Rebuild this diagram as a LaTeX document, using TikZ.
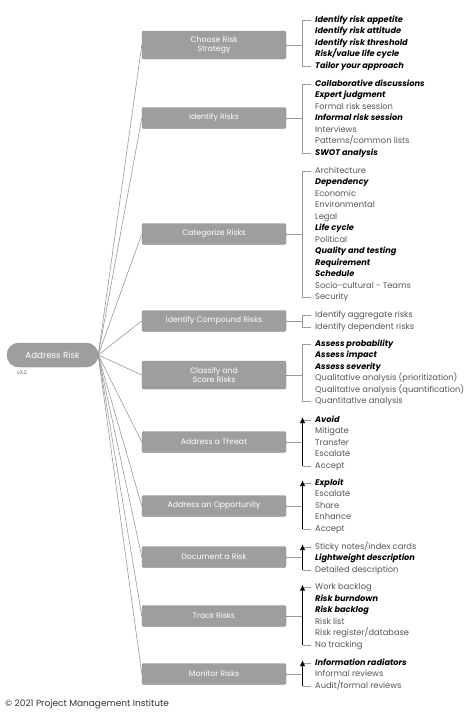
\documentclass[tikz,border=0pt]{standalone}
\usepackage{fontspec}
\setmainfont{Poppins}
\usetikzlibrary{arrows.meta}

\definecolor{boxgray}{HTML}{9E9E9E}
\definecolor{boxedge}{HTML}{878787}
\definecolor{linegray}{HTML}{999999}
\definecolor{txtgray}{HTML}{555555}

\begin{document}
\begin{tikzpicture}[
  x=1pt, y=-1pt,
  root/.style={draw=boxedge, fill=boxgray, rounded corners=12pt, minimum width=91pt, minimum height=24pt, text=white, font=\fontsize{8.7}{10}\selectfont},
  task/.style={draw=boxedge, fill=boxgray, rounded corners=2pt, minimum width=144pt, minimum height=21pt, inner sep=1pt, text=white, align=center, font=\fontsize{7.8}{9}\selectfont},
  key/.style={anchor=west, inner sep=0pt, text height=6pt, text depth=2pt, text=black, font=\fontsize{8.2}{9}\selectfont\bfseries\itshape},
  plain/.style={anchor=west, inner sep=0pt, text height=6pt, text depth=2pt, text=txtgray, font=\fontsize{8.3}{9}\selectfont},
  spoke/.style={draw=linegray, line width=0.6pt},
  brace/.style={draw=linegray, line width=0.6pt},
  order/.style={draw=black, line width=1.5pt, -{Latex[length=6pt,width=5.5pt]}}
]
\useasboundingbox (0,0) rectangle (474,712);

% root
\node[root] (root) at (52.5,355) {Address Risk};
\node[inner sep=0pt, text=txtgray, font=\fontsize{5}{6}\selectfont] (ver) at (22,373) {v3.2};

% practices
\node[task, minimum height=28pt] (cs) at (214,45) {Choose Risk\\Strategy};
\node[task] (id) at (214,118) {Identify Risks};
\node[task] (ca) at (214,234) {Categorize Risks};
\node[task] (cp) at (214,321) {Identify Compound Risks};
\node[task, minimum height=28pt] (cl) at (214,375) {Classify and\\Score Risks};
\node[task] (th) at (214,442) {Address a Threat};
\node[task] (op) at (214,506) {Address an Opportunity};
\node[task] (dc) at (214,557) {Document a Risk};
\node[task] (tr) at (214,616) {Track Risks};
\node[task] (mo) at (214,674) {Monitor Risks};

\foreach \b in {cs,id,ca,cp,cl,th,op,dc,tr,mo}
  \draw[spoke] (root.east) -- (\b.west);

% options: choose risk strategy
\node[key] (cs1) at (315,20) {Identify risk appetite};
\node[key] (cs2) at (315,31.5) {Identify risk attitude};
\node[key] (cs3) at (315,43) {Identify risk threshold};
\node[key] (cs4) at (315,54.5) {Risk/value life cycle};
\node[key] (cs5) at (315,66) {Tailor your approach};

% identify risks
\node[key] (id1) at (315,84) {Collaborative discussions};
\node[key] (id2) at (315,95.5) {Expert judgment};
\node[plain] (id3) at (315,107) {Formal risk session};
\node[key] (id4) at (315,118.5) {Informal risk session};
\node[plain] (id5) at (315,130) {Interviews};
\node[plain] (id6) at (315,141.5) {Patterns/common lists};
\node[key] (id7) at (315,153) {SWOT analysis};

% categorize risks
\node[plain] (ca1) at (315,171) {Architecture};
\node[key] (ca2) at (315,182.5) {Dependency};
\node[plain] (ca3) at (315,194) {Economic};
\node[plain] (ca4) at (315,205.5) {Environmental};
\node[plain] (ca5) at (315,217) {Legal};
\node[key] (ca6) at (315,228.5) {Life cycle};
\node[plain] (ca7) at (315,240) {Political};
\node[key] (ca8) at (315,251.5) {Quality and testing};
\node[key] (ca9) at (315,263) {Requirement};
\node[key] (ca10) at (315,274.5) {Schedule};
\node[plain] (ca11) at (315,286) {Socio-cultural - Teams};
\node[plain] (ca12) at (315,297.5) {Security};

% compound risks
\node[plain] (cp1) at (315,315.5) {Identify aggregate risks};
\node[plain] (cp2) at (315,327) {Identify dependent risks};

% classify and score
\node[key] (cl1) at (315,344) {Assess probability};
\node[key] (cl2) at (315,355.5) {Assess impact};
\node[key] (cl3) at (315,367) {Assess severity};
\node[plain] (cl4) at (315,378.5) {Qualitative analysis (prioritization)};
\node[plain] (cl5) at (315,390) {Qualitative analysis (quantification)};
\node[plain] (cl6) at (315,401.5) {Quantitative analysis};

% threat
\node[key] (th1) at (315,420) {Avoid};
\node[plain] (th2) at (315,431.5) {Mitigate};
\node[plain] (th3) at (315,443) {Transfer};
\node[plain] (th4) at (315,454.5) {Escalate};
\node[plain] (th5) at (315,466) {Accept};

% opportunity
\node[key] (op1) at (315,483) {Exploit};
\node[plain] (op2) at (315,494.5) {Escalate};
\node[plain] (op3) at (315,506) {Share};
\node[plain] (op4) at (315,517.5) {Enhance};
\node[plain] (op5) at (315,529) {Accept};

% document
\node[plain] (dc1) at (315,547) {Sticky notes/index cards};
\node[key] (dc2) at (315,558.5) {Lightweight description};
\node[plain] (dc3) at (315,570) {Detailed description};

% track
\node[plain] (tr1) at (315,587.5) {Work backlog};
\node[key] (tr2) at (315,599) {Risk burndown};
\node[key] (tr3) at (315,610.5) {Risk backlog};
\node[plain] (tr4) at (315,622) {Risk list};
\node[plain] (tr5) at (315,633.5) {Risk register/database};
\node[plain] (tr6) at (315,645) {No tracking};

% monitor
\node[key] (mo1) at (315,663) {Information radiators};
\node[plain] (mo2) at (315,674.5) {Informal reviews};
\node[plain] (mo3) at (315,686) {Audit/formal reviews};

% brackets
\draw[brace] (cs.east) -- ++(16.5,0);
\draw[brace] ([xshift=-4pt]cs1.west) -- ++(-8.5,0) |- ([xshift=-4pt]cs5.west);
\draw[brace] (id.east) -- ++(16.5,0);
\draw[brace] ([xshift=-4pt]id1.west) -- ++(-8.5,0) |- ([xshift=-4pt]id7.west);
\draw[brace] (ca.east) -- ++(16.5,0);
\draw[brace] ([xshift=-4pt]ca1.west) -- ++(-8.5,0) |- ([xshift=-4pt]ca12.west);
\draw[brace] (cp.east) -- ++(16.5,0);
\draw[brace] ([xshift=-4pt]cp1.west) -- ++(-8.5,0) |- ([xshift=-4pt]cp2.west);
\draw[brace] (cl.east) -- ++(16.5,0);
\draw[brace] ([xshift=-4pt]cl1.west) -- ++(-8.5,0) |- ([xshift=-4pt]cl6.west);

% ordered lists
\draw[brace] (th.east) -- ++(16.5,0);
\draw[brace] ([xshift=-4pt]th1.west) -- ++(-8.5,0);
\draw[brace] ([xshift=-4pt]th5.west) -- ++(-8.5,0);
\draw[order] ([xshift=-12.5pt]th5.west) -- ([xshift=-12.5pt,yshift=3pt]th1.west);
\draw[brace] (op.east) -- ++(16.5,0);
\draw[brace] ([xshift=-4pt]op1.west) -- ++(-8.5,0);
\draw[brace] ([xshift=-4pt]op5.west) -- ++(-8.5,0);
\draw[order] ([xshift=-12.5pt]op5.west) -- ([xshift=-12.5pt,yshift=3pt]op1.west);
\draw[brace] (dc.east) -- ++(16.5,0);
\draw[brace] ([xshift=-4pt]dc1.west) -- ++(-8.5,0);
\draw[brace] ([xshift=-4pt]dc3.west) -- ++(-8.5,0);
\draw[order] ([xshift=-12.5pt]dc3.west) -- ([xshift=-12.5pt,yshift=3pt]dc1.west);
\draw[brace] (tr.east) -- ++(16.5,0);
\draw[brace] ([xshift=-4pt]tr1.west) -- ++(-8.5,0);
\draw[brace] ([xshift=-4pt]tr6.west) -- ++(-8.5,0);
\draw[order] ([xshift=-12.5pt]tr6.west) -- ([xshift=-12.5pt,yshift=3pt]tr1.west);
\draw[brace] (mo.east) -- ++(16.5,0);
\draw[brace] ([xshift=-4pt]mo1.west) -- ++(-8.5,0);
\draw[brace] ([xshift=-4pt]mo3.west) -- ++(-8.5,0);
\draw[order] ([xshift=-12.5pt]mo3.west) -- ([xshift=-12.5pt,yshift=3pt]mo1.west);

% footer
\node[anchor=west, inner sep=0pt, text=black!80, font=\fontsize{9}{10}\selectfont] (copy) at (5,704) {© 2021 Project Management Institute};
\end{tikzpicture}
\end{document}
